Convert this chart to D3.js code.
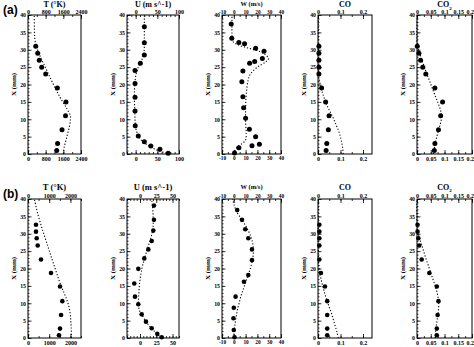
<!DOCTYPE html>
<html>
<head>
<meta charset="utf-8">
<script src="https://cdn.jsdelivr.net/npm/d3@7"></script>
<style>
  html, body { margin: 0; padding: 0; background: #fff; }
  svg { display: block; }
  text { font-family: "Liberation Serif", "DejaVu Serif", serif; font-weight: bold; fill: #000; }
</style>
</head>
<body>
<svg id="chart" width="474" height="347"></svg>
<script>
// ---------- Case (a) measured profiles ----------
const heightsA = [1, 3, 7, 11, 15, 19, 23, 25, 27, 29, 31];
const tempA = [1300, 1340, 1540, 1700, 1720, 1330, 800, 620, 510, 440, 350];
const coA = [0.036, 0.039, 0.046, 0.049, 0.034, 0.016, 0.004, 0.004, 0.004, 0.004, 0.004];
const co2A = [0.063, 0.065, 0.078, 0.086, 0.093, 0.065, 0.032, 0.021, 0.013, 0.007, 0.001];

const uHeightsA = [0.2, 1.4, 2.3, 3.5, 5.2, 8.1, 12.4, 16.3, 20.3, 24.0, 26.1, 28.5, 32.0, 36.6];
const uA = [75, 56, 35, 20, 6, -1, -1.5, -1.5, -1.5, -1.5, 10.8, 20, 20, 20];

const wHeightsA = [0.3, 1.8, 2.4, 2.8, 5.0, 7.1, 10.3, 13.3, 16.5, 20.8, 23.9, 26.1, 26.6, 27.5, 29.6, 30.4, 31.7, 32.1, 33.3, 37.4];
const wA = [0.6, 4.3, 15.4, 21.7, 18.5, 13.2, 10, 8.3, 7.7, 6.8, 7.7, 13.4, 17.7, 24.2, 25.6, 18.5, 9.1, 4.3, -1.7, -2.2];

// ---------- Case (a) computed profiles ----------
const tempLineHA = [0, 2, 4, 6, 8, 10, 11, 13, 16, 19, 22, 25, 28, 31, 33, 36, 40];
const tempLineA = [1600, 1640, 1720, 1800, 1880, 1920, 1920, 1760, 1480, 1230, 1000, 780, 560, 380, 310, 290, 285];
const uLineHA = [0, 1, 2, 3, 4, 5, 7, 9, 12, 16, 20, 23, 25, 27, 29, 32, 36, 40];
const uLineA = [78, 52, 35, 22, 13, 7, 1, -1, -2, -3, -2, 1, 6, 14, 19, 20, 20, 20];
const wLineHA = [0, 1, 2, 3, 4, 6, 9, 13, 17, 21, 23, 25, 26.5, 27.5, 28.5, 29.5, 30.5, 31.5, 32.5, 34, 40];
const wLineA = [0, 1, 3, 7, 10, 10.5, 10, 10, 10.5, 12, 14, 20, 27, 29.5, 27, 22, 12, 3, -1, -1.5, -1.5];
const coLineHA = [0, 2, 4, 6, 8, 10, 12, 14, 16, 18, 20, 22, 25, 40];
const coLineA = [0.112, 0.109, 0.103, 0.095, 0.083, 0.07, 0.055, 0.04, 0.028, 0.018, 0.01, 0.004, 0.002, 0.002];
const co2LineHA = [0, 1, 3, 5, 7, 9, 11, 13, 15, 17, 19, 21, 23, 25, 27, 29, 31, 32, 40];
const co2LineA = [0.059, 0.061, 0.066, 0.072, 0.079, 0.086, 0.09, 0.084, 0.075, 0.065, 0.055, 0.046, 0.036, 0.027, 0.018, 0.01, 0.002, 0, 0];

// ---------- Case (b) measured profiles ----------
const heightsB = [0.8, 2.7, 6.6, 10.6, 14.8, 18.7, 22.6, 26.6, 28.7, 30.6, 32.6];
const tempB = [1460, 1510, 1560, 1620, 1510, 1085, 613, 458, 410, 377, 377];
const coB = [0.041, 0.041, 0.041, 0.041, 0.031, 0.013, 0.006, 0.006, 0.006, 0.006, 0.006];
const co2B = [0.072, 0.072, 0.075, 0.078, 0.072, 0.045, 0.017, 0.008, 0.005, 0.002, 0.002];

const uHeightsB = [0.2, 1.2, 2.8, 4.7, 6.8, 9.7, 11.9, 15.7, 19.9, 22.9, 25.5, 27.9, 30.9, 34.0, 38.1];
const uB = [33.4, 26.6, 18, 9.2, 2.6, -2.6, -7.7, -8.8, -2.6, 6.6, 12.8, 18, 20.5, 21.5, 21.5];

const wHeightsB = [0.2, 2.3, 5.7, 8.7, 11.9, 16.2, 18.1, 22.4, 25.5, 28.7, 31.3, 34.0, 36.8];
const wB = [0.6, 0, -0.3, 0, 1.5, 8.6, 12.3, 15.4, 15.4, 12.3, 9.7, 6.9, 2.9];

// ---------- Case (b) computed profiles ----------
const tempLineHB = [0, 3, 5, 7, 9, 11, 13, 16, 20, 24, 28, 32, 36, 40];
const tempLineB = [2050, 2040, 2020, 1990, 1930, 1830, 1700, 1500, 1280, 1060, 850, 640, 450, 300];
const uLineHB = [0, 2, 4, 6, 8, 10, 12, 16, 20, 23, 26, 29, 32, 36, 40];
const uLineB = [33, 22, 12, 5, -1, -2.5, -2, -0.5, 3, 7, 12, 17, 20, 20, 18];
const wLineHB = [0, 2, 4, 6, 8, 10, 12, 14, 16, 18, 20, 22, 24, 26, 28, 30, 32, 34, 36, 38, 40];
const wLineB = [0, 0.3, 1, 2, 3, 4.5, 6, 8, 10, 12, 14, 15.5, 16.5, 16.5, 15.5, 13.5, 10.5, 7, 3, 0.5, -1];
const coLineHB = [0, 2, 4, 6, 8, 10, 12, 14, 16, 18, 20, 22, 40];
const coLineB = [0.09, 0.083, 0.074, 0.065, 0.055, 0.044, 0.034, 0.025, 0.017, 0.01, 0.005, 0.002, 0.002];
const co2LineHB = [0, 2, 4, 6, 8, 10, 12, 14, 16, 18, 20, 22, 24, 26, 28, 30, 32, 40];
const co2LineB = [0.066, 0.068, 0.071, 0.075, 0.078, 0.079, 0.076, 0.07, 0.062, 0.053, 0.045, 0.036, 0.028, 0.02, 0.012, 0.005, 0, 0];

// ---------- Axis settings ----------
const heightTicks = [0, 5, 10, 15, 20, 25, 30, 35, 40];
const tempTicksA = [0, 800, 1600, 2400];
const tempTicksB = [0, 1000, 2000];
const uTicksA = [0, 50, 100];
const uTicksB = [0, 25, 50];
const wTicks = [-10, 0, 10, 20, 30, 40];
const coTicks = [0, 0.1, 0.2];
const co2Ticks = [0, 0.05, 0.1, 0.15, 0.2];

const svg = d3.select("#chart");
svg.append("rect").attr("width", 474).attr("height", 347).attr("fill", "#fff");

const rowTop = [15, 199];
const plotH = 139;
const cols = [
  { x: 28, w: 53 },
  { x: 127, w: 52 },
  { x: 222, w: 59 },
  { x: 318, w: 54 },
  { x: 417, w: 55 }
];

function fmt(v) { return String(v); }

const rows = [
  {
    label: "(a)",
    r: 2.5,
    titleY: -8, smallTitleY: -9.3,
    panels: [
      { title: "T (°K)", domain: [0, 2400], ticks: tempTicksA, minor: 400, ph: heightsA, pv: tempA, lh: tempLineHA, lv: tempLineA, tsize: 8 },
      { title: "U (m s^-1)", domain: [-20, 100], ticks: uTicksA, minor: 10, ph: uHeightsA, pv: uA, lh: uLineHA, lv: uLineA, tsize: 8 },
      { title: "W (m/s)", domain: [-10, 40], ticks: wTicks, minor: 5, ph: wHeightsA, pv: wA, lh: wLineHA, lv: wLineA, tsize: 6.5, small: true },
      { title: "CO", domain: [0, 0.24], ticks: coTicks, minor: 0.05, ph: heightsA, pv: coA, lh: coLineHA, lv: coLineA, tsize: 8 },
      { title: "CO2", domain: [0, 0.2], ticks: co2Ticks, minor: 0.025, ph: heightsA, pv: co2A, lh: co2LineHA, lv: co2LineA, tsize: 8, edge: true }
    ]
  },
  {
    label: "(b)",
    r: 2.3,
    titleY: -9.5, smallTitleY: -10.5,
    panels: [
      { title: "T (°K)", domain: [0, 2500], ticks: tempTicksB, minor: 500, ph: heightsB, pv: tempB, lh: tempLineHB, lv: tempLineB, tsize: 8.5 },
      { title: "U (m s^-1)", domain: [-20, 60], ticks: uTicksB, minor: 5, ph: uHeightsB, pv: uB, lh: uLineHB, lv: uLineB, tsize: 8.5 },
      { title: "W (m/s)", domain: [-10, 40], ticks: wTicks, minor: 5, ph: wHeightsB, pv: wB, lh: wLineHB, lv: wLineB, tsize: 6.5, small: true },
      { title: "CO", domain: [0, 0.24], ticks: coTicks, minor: 0.05, ph: heightsB, pv: coB, lh: coLineHB, lv: coLineB, tsize: 8 },
      { title: "CO2", domain: [0, 0.2], ticks: co2Ticks, minor: 0.025, ph: heightsB, pv: co2B, lh: co2LineHB, lv: co2LineB, tsize: 8, edge: true }
    ]
  }
];

function minorValues(domain, step) {
  const out = [];
  const start = Math.ceil(domain[0] / step - 1e-9);
  const end = Math.floor(domain[1] / step + 1e-9);
  for (let i = start; i <= end; i++) out.push(+(i * step).toFixed(6));
  return out;
}

rows.forEach((row, ri) => {
  const top = rowTop[ri];
  svg.append("text")
    .attr("x", 3).attr("y", top - 1)
    .style("font-family", "'Liberation Sans', Arial, sans-serif")
    .style("font-size", "12px")
    .text(row.label);

  row.panels.forEach((p, ci) => {
    const c = cols[ci];
    const g = svg.append("g").attr("transform", `translate(${c.x},${top})`);
    const x = d3.scaleLinear().domain(p.domain).range([0, c.w]);
    const y = d3.scaleLinear().domain([0, 40]).range([plotH, 0]);

    // minor ticks (top, bottom, left)
    const minors = minorValues(p.domain, p.minor);
    g.append("g").call(d3.axisTop(x).tickValues(minors).tickSize(-2).tickFormat(""))
      .call(s => s.select(".domain").remove());
    g.append("g").attr("transform", `translate(0,${plotH})`)
      .call(d3.axisBottom(x).tickValues(minors).tickSize(-2).tickFormat(""))
      .call(s => s.select(".domain").remove());
    g.append("g").call(d3.axisLeft(y).tickValues(d3.range(0, 41, 1)).tickSize(-1.5).tickFormat(""))
      .call(s => s.select(".domain").remove());

    // major ticks with labels
    const fs = p.small ? 5.3 : 6;
    const topAxis = g.append("g")
      .call(d3.axisTop(x).tickValues(p.ticks).tickSize(-4).tickPadding(1.5).tickFormat(fmt));
    const botAxis = g.append("g").attr("transform", `translate(0,${plotH})`)
      .call(d3.axisBottom(x).tickValues(p.ticks).tickSize(-4).tickPadding(2.5).tickFormat(fmt));
    const leftAxis = g.append("g")
      .call(d3.axisLeft(y).tickValues(heightTicks).tickSize(-3.5).tickPadding(2).tickFormat(fmt));
    [topAxis, botAxis, leftAxis].forEach(a => {
      a.select(".domain").remove();
      a.selectAll("text").style("font-size", fs + "px")
        .style("font-family", "'Liberation Serif', serif").style("font-weight", "bold");
    });
    leftAxis.selectAll("text").style("font-size", "5.8px");
    if (p.edge) {
      // keep the last label inside the page at the right border
      [topAxis, botAxis].forEach(a => {
        a.selectAll(".tick").filter(d => d === p.domain[1])
          .select("text").attr("text-anchor", "end").attr("dx", 1.5);
      });
    }
    g.selectAll(".tick line").attr("stroke", "#000").attr("stroke-width", 0.8);

    // frame
    g.append("rect").attr("width", c.w).attr("height", plotH)
      .attr("fill", "none").attr("stroke", "#000").attr("stroke-width", 1);

    // axis titles
    const t = g.append("text")
      .attr("x", c.w / 2)
      .attr("y", p.small ? row.smallTitleY : row.titleY)
      .attr("text-anchor", "middle")
      .style("font-size", p.tsize + "px");
    if (p.title === "CO2") {
      t.append("tspan").text("CO");
      t.append("tspan").attr("dy", 2.5).style("font-size", "5px").text("2");
    } else {
      t.text(p.title);
    }

    g.append("text")
      .attr("transform", `translate(${-12},${plotH / 2}) rotate(-90)`)
      .attr("text-anchor", "middle")
      .style("font-size", "7px")
      .text("X (mm)");

    // computed profile
    const lineData = p.lh.map((h, i) => [p.lv[i], h]);
    g.append("path")
      .datum(lineData)
      .attr("fill", "none")
      .attr("stroke", "#000")
      .attr("stroke-width", 1.1)
      .attr("stroke-dasharray", "1.2,1.9")
      .attr("d", d3.line().x(d => x(d[0])).y(d => y(d[1])).curve(d3.curveCatmullRom));

    // measured points
    const pts = p.ph.map((h, i) => [p.pv[i], h]);
    g.selectAll("circle.pt").data(pts).join("circle")
      .attr("class", "pt")
      .attr("cx", d => x(d[0]))
      .attr("cy", d => y(d[1]))
      .attr("r", row.r)
      .attr("fill", "#000");
  });
});
</script>
</body>
</html>
